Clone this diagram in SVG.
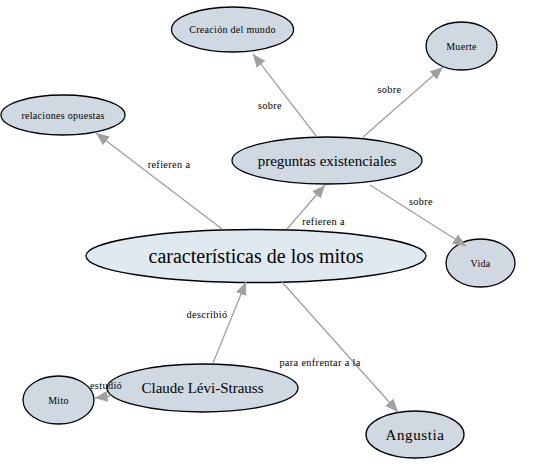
<svg xmlns="http://www.w3.org/2000/svg" width="536" height="465" viewBox="0 0 536 465">
<defs>
<marker id="arr" markerUnits="userSpaceOnUse" markerWidth="14" markerHeight="12" refX="13" refY="6" orient="auto">
<path d="M0,0.5 L13,6 L0,11.5 Z" fill="#a0a0a0"/>
</marker>
</defs>
<style>
.n ellipse{fill:#d0d9e1;stroke:#000;stroke-width:1.3}
#n_caract ellipse{fill:#e0e8f0}
text{font-family:"Liberation Serif","DejaVu Serif","Times New Roman",serif;fill:#000;text-anchor:middle}
.s{font-size:10px;letter-spacing:0.3px}
.m{font-size:15px}
.l{font-size:20px}
.e line{stroke:#a0a0a0;stroke-width:1.3;marker-end:url(#arr)}
.e text{font-size:10.3px;letter-spacing:0.35px}
</style>
<rect width="536" height="465" fill="#fff"/>
<g id="nodes">
<g id="n_creacion" class="n"><ellipse cx="232.5" cy="29.5" rx="61" ry="22.5"/><text class="s" x="232.5" y="33">Creación del mundo</text></g>
<g id="n_muerte" class="n"><ellipse cx="461.5" cy="46" rx="35.5" ry="24"/><text class="s" x="461.5" y="49.5">Muerte</text></g>
<g id="n_relaciones" class="n"><ellipse cx="63" cy="115" rx="62" ry="20"/><text class="s" x="63" y="118.5">relaciones opuestas</text></g>
<g id="n_preguntas" class="n"><ellipse cx="327" cy="160.5" rx="95" ry="23.5"/><text class="m" x="327" y="165.5">preguntas existenciales</text></g>
<g id="n_caract" class="n"><ellipse cx="256" cy="256" rx="170" ry="26.5"/><text class="l" x="256" y="262.5">características de los mitos</text></g>
<g id="n_vida" class="n"><ellipse cx="480.5" cy="263" rx="34.5" ry="24"/><text class="s" x="480.5" y="266.5">Vida</text></g>
<g id="n_claude" class="n"><ellipse cx="202.5" cy="388" rx="95.5" ry="24"/><text class="m" x="202.5" y="393">Claude Lévi-Strauss</text></g>
<g id="n_mito" class="n"><ellipse cx="58.5" cy="400" rx="35.5" ry="24"/><text class="s" x="58.5" y="403.5">Mito</text></g>
<g id="n_angustia" class="n"><ellipse cx="415" cy="434.5" rx="49" ry="23.5"/><text class="m" x="415" y="439.5" style="letter-spacing:0.6px">Angustia</text></g>
</g>
<g id="connectors" class="e">
<line x1="317" y1="137" x2="253" y2="54"/>
<text x="270" y="109">sobre</text>
<line x1="363" y1="137" x2="443" y2="67"/>
<text x="389.5" y="93">sobre</text>
<line x1="370" y1="185" x2="466" y2="246"/>
<text x="421" y="205">sobre</text>
<line x1="222" y1="229" x2="96" y2="133"/>
<text x="169" y="168">refieren a</text>
<line x1="287" y1="229" x2="325" y2="185"/>
<text x="323.5" y="225">refieren a</text>
<line x1="282" y1="282" x2="398" y2="412"/>
<text x="320" y="366">para enfrentar a la</text>
<line x1="213" y1="363" x2="246" y2="282"/>
<text x="207" y="318">describió</text>
<line x1="110" y1="396" x2="94.5" y2="398"/>
<text x="106" y="389">estudió</text>
</g>
</svg>
